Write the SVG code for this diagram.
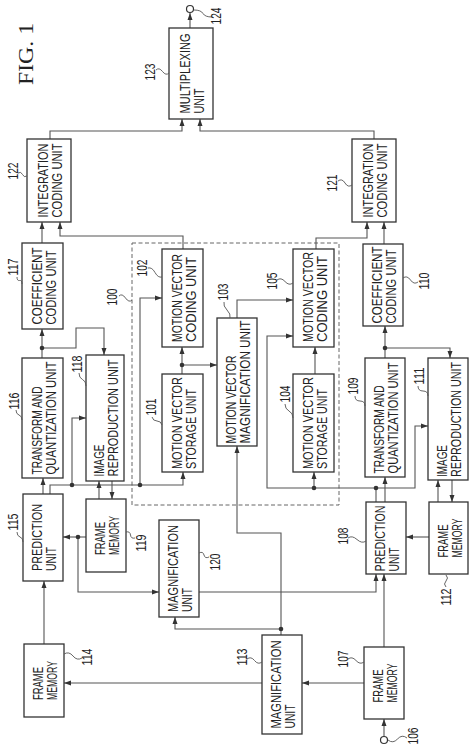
<svg xmlns="http://www.w3.org/2000/svg" width="474" height="751" viewBox="0 0 474 751">
<style>
.b{fill:#fff;stroke:#333;stroke-width:1.3}
.t{font-family:"Liberation Sans",Arial,sans-serif;font-size:14px;fill:#222}
.n{font-family:"Liberation Sans",Arial,sans-serif;font-size:14px;fill:#222;text-anchor:middle}
.c{fill:none;stroke:#555;stroke-width:1.1}
.l{fill:none;stroke:#555;stroke-width:0.9}
.d{fill:#333}
</style>
<defs>
<marker id="a" markerWidth="7" markerHeight="6" refX="7" refY="3" orient="auto" markerUnits="userSpaceOnUse"><path d="M0,0.5 L7,3 L0,5.5 z" fill="#333"/></marker>
</defs>
<rect width="474" height="751" fill="#fff"/>
<text transform="translate(33,85) rotate(-90)" font-family="Liberation Serif,serif" font-size="22" textLength="62" lengthAdjust="spacingAndGlyphs" fill="#222">FIG. 1</text>

<g id="group100">
<rect x="132" y="243" width="207" height="262" fill="none" stroke="#666" stroke-width="1" stroke-dasharray="4 2.5"/>
</g>

<g id="connectors">
<path class="c" d="M190,28 V13" marker-end="url(#a)"/>
<path class="c" d="M50,139 V131 H182 V119" marker-end="url(#a)"/>
<path class="c" d="M374,139 V131 H200 V119" marker-end="url(#a)"/>
<path class="c" d="M42,243 V222" marker-end="url(#a)"/>
<path class="c" d="M183,249 V236 H60 V222" marker-end="url(#a)"/>
<path class="c" d="M384,244 V222" marker-end="url(#a)"/>
<path class="c" d="M316,249 V238 H367 V222" marker-end="url(#a)"/>
<path class="c" d="M42,358 V329" marker-end="url(#a)"/>
<path class="c" d="M42,348 H76 V328 H104 V355" marker-end="url(#a)"/>
<path class="c" d="M43,494 V478" marker-end="url(#a)"/>
<path class="c" d="M50,494 V485 H183 V472" marker-end="url(#a)"/>
<path class="c" d="M72,485 V418 H86" marker-end="url(#a)"/>
<path class="c" d="M140,485 V298 H162" marker-end="url(#a)"/>
<path class="c" d="M182,374 V347" marker-end="url(#a)"/>
<path class="c" d="M182,365 H217" marker-end="url(#a)"/>
<path class="c" d="M237,318 V300 H293" marker-end="url(#a)"/>
<path class="c" d="M376,502 V488"/>
<path class="c" d="M376,488 H267 V336 H293" marker-end="url(#a)"/>
<path class="c" d="M376,488 H415 V426 H428" marker-end="url(#a)"/>
<path class="c" d="M314,488 V472" marker-end="url(#a)"/>
<path class="c" d="M385,502 V477" marker-end="url(#a)"/>
<path class="c" d="M385,358 V326" marker-end="url(#a)"/>
<path class="c" d="M385,348 H450 V358" marker-end="url(#a)"/>
<path class="c" d="M315,374 V347" marker-end="url(#a)"/>
<path class="c" d="M112,481 V499" marker-end="url(#a)"/>
<path class="c" d="M99,499 V481" marker-end="url(#a)"/>
<path class="c" d="M452,480 V502" marker-end="url(#a)"/>
<path class="c" d="M438,502 V480" marker-end="url(#a)"/>
<path class="c" d="M86,537 H63" marker-end="url(#a)"/>
<path class="c" d="M78,537 V592 H159" marker-end="url(#a)"/>
<path class="c" d="M199,592 H376 V574" marker-end="url(#a)"/>
<path class="c" d="M429,537 H406" marker-end="url(#a)"/>
<path class="c" d="M384,647 V574" marker-end="url(#a)"/>
<path class="c" d="M384,736.5 V719" marker-end="url(#a)"/>
<path class="c" d="M364,683 H302" marker-end="url(#a)"/>
<path class="c" d="M262,683 H64" marker-end="url(#a)"/>
<path class="c" d="M44,644 V581" marker-end="url(#a)"/>
<path class="c" d="M281,635 V533 H237 V446" marker-end="url(#a)"/>
<path class="c" d="M281,629 H175 V617" marker-end="url(#a)"/>
<circle class="d" cx="42" cy="348" r="2.3"/>
<circle class="d" cx="72" cy="485" r="2.3"/>
<circle class="d" cx="140" cy="485" r="2.3"/>
<circle class="d" cx="182" cy="365" r="2.3"/>
<circle class="d" cx="314" cy="488" r="2.3"/>
<circle class="d" cx="376" cy="488" r="2.3"/>
<circle class="d" cx="385" cy="348" r="2.3"/>
<circle class="d" cx="78" cy="537" r="2.3"/>
<circle class="d" cx="281" cy="629" r="2.3"/>
</g>

<g id="terminal124">
<circle cx="190" cy="9" r="3.5" fill="#fff" stroke="#333" stroke-width="1.2"/>
<path class="l" d="M194,10 Q201,10 203,13.5 T212,17"/>
<text class="n" transform="translate(221,16) rotate(-90)" textLength="17" lengthAdjust="spacingAndGlyphs">124</text>
</g>
<g id="terminal106">
<circle cx="384" cy="740" r="3.5" fill="#fff" stroke="#333" stroke-width="1.2"/>
<path class="l" d="M388,740 Q393,744 397.5,739 T407,738"/>
<text class="n" transform="translate(418,736) rotate(-90)" textLength="17" lengthAdjust="spacingAndGlyphs">106</text>
</g>

<g id="label100">
<path class="l" d="M119,296 Q122,293 125.5,298 T132,300"/>
<text class="n" transform="translate(117,297) rotate(-90)" textLength="17" lengthAdjust="spacingAndGlyphs">100</text>
</g>

<g id="node123">
<rect class="b" x="169" y="28" width="44" height="91"/>
<text class="t" transform="translate(190,113.5) rotate(-90)" textLength="80" lengthAdjust="spacingAndGlyphs">MULTIPLEXING</text>
<text class="t" transform="translate(204,113.5) rotate(-90)" textLength="25" lengthAdjust="spacingAndGlyphs">UNIT</text>
<path class="l" d="M156,70 Q159,67 162.5,71.5 T169,73"/>
<text class="n" transform="translate(155,72) rotate(-90)" textLength="17" lengthAdjust="spacingAndGlyphs">123</text>
</g>

<g id="node122">
<rect class="b" x="27" y="139" width="44" height="83"/>
<text class="t" transform="translate(48,217.5) rotate(-90)" textLength="74" lengthAdjust="spacingAndGlyphs">INTEGRATION</text>
<text class="t" transform="translate(62,217.5) rotate(-90)" textLength="74" lengthAdjust="spacingAndGlyphs">CODING UNIT</text>
<path class="l" d="M18,173 Q21,171 22.5,174.5 T27,176"/>
<text class="n" transform="translate(18,171) rotate(-90)" textLength="17" lengthAdjust="spacingAndGlyphs">122</text>
</g>

<g id="node121">
<rect class="b" x="352" y="139" width="44" height="83"/>
<text class="t" transform="translate(373,217.5) rotate(-90)" textLength="74" lengthAdjust="spacingAndGlyphs">INTEGRATION</text>
<text class="t" transform="translate(387,217.5) rotate(-90)" textLength="74" lengthAdjust="spacingAndGlyphs">CODING UNIT</text>
<path class="l" d="M338,181 Q342,178 345,183 T352,185"/>
<text class="n" transform="translate(337,183) rotate(-90)" textLength="17" lengthAdjust="spacingAndGlyphs">121</text>
</g>

<g id="node117">
<rect class="b" x="22" y="243" width="41" height="86"/>
<text class="t" transform="translate(41.5,324.5) rotate(-90)" textLength="77" lengthAdjust="spacingAndGlyphs">COEFFICIENT</text>
<text class="t" transform="translate(55.5,324.5) rotate(-90)" textLength="74" lengthAdjust="spacingAndGlyphs">CODING UNIT</text>
<path class="l" d="M17,277 Q17,281 19.5,280.5 T22,284"/>
<text class="n" transform="translate(18,267) rotate(-90)" textLength="17" lengthAdjust="spacingAndGlyphs">117</text>
</g>

<g id="node110">
<rect class="b" x="363" y="244" width="40" height="82"/>
<text class="t" transform="translate(382,323.5) rotate(-90)" textLength="77" lengthAdjust="spacingAndGlyphs">COEFFICIENT</text>
<text class="t" transform="translate(396,323.5) rotate(-90)" textLength="74" lengthAdjust="spacingAndGlyphs">CODING UNIT</text>
<path class="l" d="M403,278 Q407,275 410.5,280 T418,282"/>
<text class="n" transform="translate(429,281) rotate(-90)" textLength="17" lengthAdjust="spacingAndGlyphs">110</text>
</g>

<g id="node102">
<rect class="b" x="162" y="249" width="41" height="98"/>
<text class="t" transform="translate(181.5,342) rotate(-90)" textLength="88" lengthAdjust="spacingAndGlyphs">MOTION VECTOR</text>
<text class="t" transform="translate(195.5,342) rotate(-90)" textLength="85" lengthAdjust="spacingAndGlyphs">CODING UNIT</text>
<path class="l" d="M148,268 Q152,267 155,272.5 T162,277"/>
<text class="n" transform="translate(147,268) rotate(-90)" textLength="17" lengthAdjust="spacingAndGlyphs">102</text>
</g>

<g id="node105">
<rect class="b" x="293" y="249" width="41" height="98"/>
<text class="t" transform="translate(312.5,342) rotate(-90)" textLength="90" lengthAdjust="spacingAndGlyphs">MOTION VECTOR</text>
<text class="t" transform="translate(326.5,342) rotate(-90)" textLength="86" lengthAdjust="spacingAndGlyphs">CODING UNIT</text>
<path class="l" d="M277,280 Q281,277 285,281.5 T293,283"/>
<text class="n" transform="translate(277,281) rotate(-90)" textLength="17" lengthAdjust="spacingAndGlyphs">105</text>
</g>

<g id="node103">
<rect class="b" x="217" y="318" width="40" height="128"/>
<text class="t" transform="translate(236,443.5) rotate(-90)" textLength="88" lengthAdjust="spacingAndGlyphs">MOTION VECTOR</text>
<text class="t" transform="translate(250,443.5) rotate(-90)" textLength="123" lengthAdjust="spacingAndGlyphs">MAGNIFICATION UNIT</text>
<path class="l" d="M224,302 Q223,306 227,310 T230,318"/>
<text class="n" transform="translate(228,292) rotate(-90)" textLength="17" lengthAdjust="spacingAndGlyphs">103</text>
</g>

<g id="node101">
<rect class="b" x="162" y="374" width="41" height="98"/>
<text class="t" transform="translate(181.5,469) rotate(-90)" textLength="92" lengthAdjust="spacingAndGlyphs">MOTION VECTOR</text>
<text class="t" transform="translate(195.5,469) rotate(-90)" textLength="80" lengthAdjust="spacingAndGlyphs">STORAGE UNIT</text>
<path class="l" d="M152,417 Q153,421 157,421 T162,425"/>
<text class="n" transform="translate(156,407) rotate(-90)" textLength="17" lengthAdjust="spacingAndGlyphs">101</text>
</g>

<g id="node104">
<rect class="b" x="293" y="374" width="41" height="98"/>
<text class="t" transform="translate(312.5,469) rotate(-90)" textLength="92" lengthAdjust="spacingAndGlyphs">MOTION VECTOR</text>
<text class="t" transform="translate(326.5,469) rotate(-90)" textLength="80" lengthAdjust="spacingAndGlyphs">STORAGE UNIT</text>
<path class="l" d="M285,404 Q285,409 289,411 T293,418"/>
<text class="n" transform="translate(290,394) rotate(-90)" textLength="17" lengthAdjust="spacingAndGlyphs">104</text>
</g>

<g id="node116">
<rect class="b" x="22" y="358" width="41" height="120"/>
<text class="t" transform="translate(41.5,474.5) rotate(-90)" textLength="88" lengthAdjust="spacingAndGlyphs">TRANSFORM AND</text>
<text class="t" transform="translate(55.5,474.5) rotate(-90)" textLength="113" lengthAdjust="spacingAndGlyphs">QUANTIZATION UNIT</text>
<path class="l" d="M16,410 Q16,414 19,415 T22,420"/>
<text class="n" transform="translate(19,401) rotate(-90)" textLength="17" lengthAdjust="spacingAndGlyphs">116</text>
</g>

<g id="node109">
<rect class="b" x="365" y="358" width="40" height="119"/>
<text class="t" transform="translate(384,473.5) rotate(-90)" textLength="88" lengthAdjust="spacingAndGlyphs">TRANSFORM AND</text>
<text class="t" transform="translate(398,473.5) rotate(-90)" textLength="111" lengthAdjust="spacingAndGlyphs">QUANTIZATION UNIT</text>
<path class="l" d="M355,396 Q355,401 360,401 T365,406"/>
<text class="n" transform="translate(358,386) rotate(-90)" textLength="17" lengthAdjust="spacingAndGlyphs">109</text>
</g>

<g id="node118">
<rect class="b" x="86" y="355" width="38" height="126"/>
<text class="t" transform="translate(104,476.5) rotate(-90)" textLength="32" lengthAdjust="spacingAndGlyphs">IMAGE</text>
<text class="t" transform="translate(118,476.5) rotate(-90)" textLength="117" lengthAdjust="spacingAndGlyphs">REPRODUCTION UNIT</text>
<path class="l" d="M79,373 Q79,378 82.5,379.5 T86,386"/>
<text class="n" transform="translate(82,364) rotate(-90)" textLength="17" lengthAdjust="spacingAndGlyphs">118</text>
</g>

<g id="node111">
<rect class="b" x="428" y="358" width="40" height="122"/>
<text class="t" transform="translate(447,477) rotate(-90)" textLength="32" lengthAdjust="spacingAndGlyphs">IMAGE</text>
<text class="t" transform="translate(461,477) rotate(-90)" textLength="115" lengthAdjust="spacingAndGlyphs">REPRODUCTION UNIT</text>
<path class="l" d="M418,386 Q418,391 423,391 T428,396"/>
<text class="n" transform="translate(424,376) rotate(-90)" textLength="17" lengthAdjust="spacingAndGlyphs">111</text>
</g>

<g id="node115">
<rect class="b" x="23" y="494" width="40" height="87"/>
<text class="t" transform="translate(42,571) rotate(-90)" textLength="67" lengthAdjust="spacingAndGlyphs">PREDICTION</text>
<text class="t" transform="translate(56,571) rotate(-90)" textLength="24" lengthAdjust="spacingAndGlyphs">UNIT</text>
<path class="l" d="M17,532 Q17,536 20,537 T23,542"/>
<text class="n" transform="translate(18,522) rotate(-90)" textLength="17" lengthAdjust="spacingAndGlyphs">115</text>
</g>

<g id="node108">
<rect class="b" x="366" y="502" width="40" height="72"/>
<text class="t" transform="translate(385,571.5) rotate(-90)" textLength="66" lengthAdjust="spacingAndGlyphs">PREDICTION</text>
<text class="t" transform="translate(399,571.5) rotate(-90)" textLength="24" lengthAdjust="spacingAndGlyphs">UNIT</text>
<path class="l" d="M348,538 Q352,535 357,539.5 T366,541"/>
<text class="n" transform="translate(348,536) rotate(-90)" textLength="17" lengthAdjust="spacingAndGlyphs">108</text>
</g>

<g id="node119">
<rect class="b" x="86" y="499" width="40" height="73"/>
<text class="t" transform="translate(105,555) rotate(-90)" textLength="33" lengthAdjust="spacingAndGlyphs">FRAME</text>
<text class="t" transform="translate(119,555) rotate(-90)" textLength="39" lengthAdjust="spacingAndGlyphs">MEMORY</text>
<path class="l" d="M126,532 Q130,531 130.5,535 T135,538"/>
<text class="n" transform="translate(146,543) rotate(-90)" textLength="17" lengthAdjust="spacingAndGlyphs">119</text>
</g>

<g id="node112">
<rect class="b" x="429" y="502" width="39" height="72"/>
<text class="t" transform="translate(447.5,557.5) rotate(-90)" textLength="33" lengthAdjust="spacingAndGlyphs">FRAME</text>
<text class="t" transform="translate(461.5,557.5) rotate(-90)" textLength="39" lengthAdjust="spacingAndGlyphs">MEMORY</text>
<path class="l" d="M446,575 Q449,578 446,581 T446,587"/>
<text class="n" transform="translate(451,597) rotate(-90)" textLength="17" lengthAdjust="spacingAndGlyphs">112</text>
</g>

<g id="node120">
<rect class="b" x="159" y="520" width="40" height="97"/>
<text class="t" transform="translate(178,612) rotate(-90)" textLength="87" lengthAdjust="spacingAndGlyphs">MAGNIFICATION</text>
<text class="t" transform="translate(192,612) rotate(-90)" textLength="24" lengthAdjust="spacingAndGlyphs">UNIT</text>
<path class="l" d="M199,553 Q203,551 204,555 T209,557"/>
<text class="n" transform="translate(220,562) rotate(-90)" textLength="17" lengthAdjust="spacingAndGlyphs">120</text>
</g>

<g id="node114">
<rect class="b" x="24" y="644" width="40" height="73"/>
<text class="t" transform="translate(43,700) rotate(-90)" textLength="33" lengthAdjust="spacingAndGlyphs">FRAME</text>
<text class="t" transform="translate(57,700) rotate(-90)" textLength="39" lengthAdjust="spacingAndGlyphs">MEMORY</text>
<path class="l" d="M64,654 Q69,651 73,656 T82,658"/>
<text class="n" transform="translate(92,657) rotate(-90)" textLength="17" lengthAdjust="spacingAndGlyphs">114</text>
</g>

<g id="node113">
<rect class="b" x="262" y="635" width="40" height="99"/>
<text class="t" transform="translate(281,728.5) rotate(-90)" textLength="88" lengthAdjust="spacingAndGlyphs">MAGNIFICATION</text>
<text class="t" transform="translate(295,728.5) rotate(-90)" textLength="24" lengthAdjust="spacingAndGlyphs">UNIT</text>
<path class="l" d="M247,659 Q251,656 254.5,660.5 T262,662"/>
<text class="n" transform="translate(247,657) rotate(-90)" textLength="17" lengthAdjust="spacingAndGlyphs">113</text>
</g>

<g id="node107">
<rect class="b" x="364" y="647" width="40" height="72"/>
<text class="t" transform="translate(383,702.5) rotate(-90)" textLength="33" lengthAdjust="spacingAndGlyphs">FRAME</text>
<text class="t" transform="translate(397,702.5) rotate(-90)" textLength="39" lengthAdjust="spacingAndGlyphs">MEMORY</text>
<path class="l" d="M348,659 Q352,656 356,660.5 T364,662"/>
<text class="n" transform="translate(348,659) rotate(-90)" textLength="17" lengthAdjust="spacingAndGlyphs">107</text>
</g>
</svg>
